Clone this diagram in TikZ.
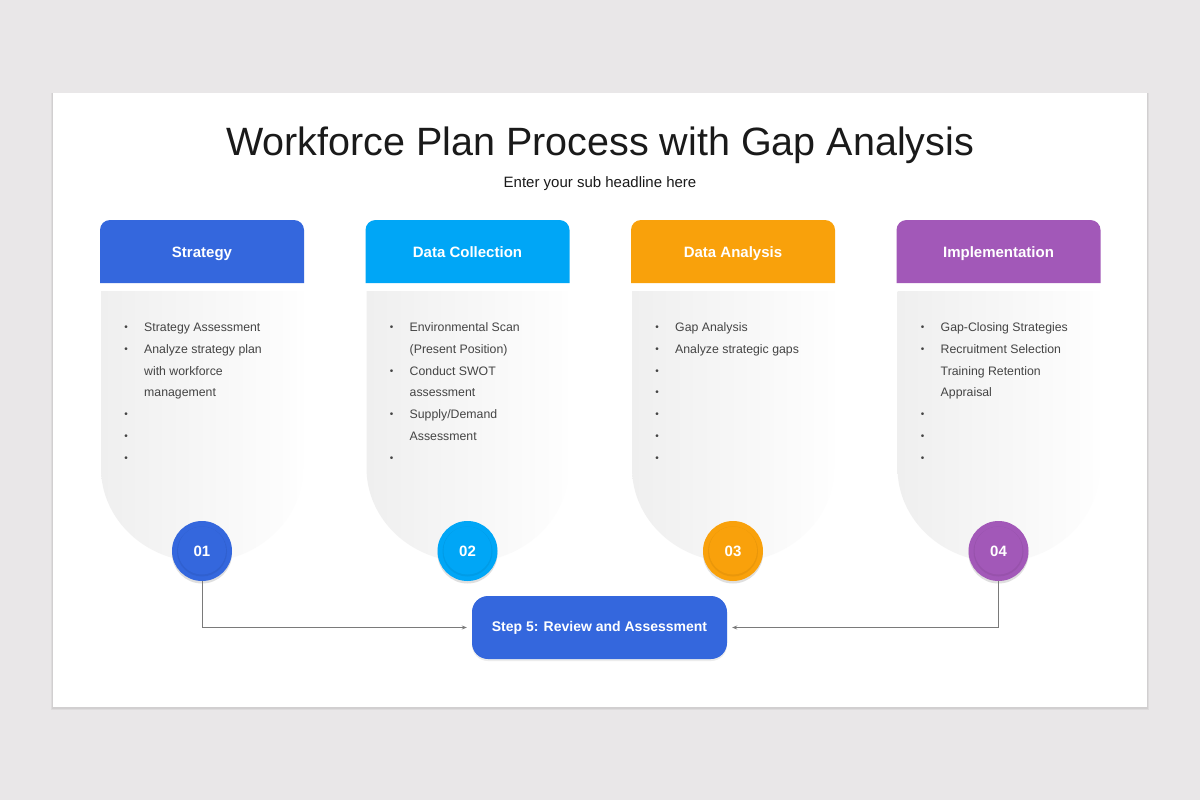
\documentclass[tikz,border=0pt]{standalone}
\usepackage{fontspec}
\setmainfont{Liberation Sans}
\usetikzlibrary{arrows.meta,shadows}
\definecolor{bgc}{HTML}{E9E7E8}
\definecolor{cblue}{HTML}{3467DD}
\definecolor{ccyan}{HTML}{00A6F6}
\definecolor{corange}{HTML}{F9A10B}
\definecolor{cpurple}{HTML}{A258B8}
\definecolor{panelL}{HTML}{EFEFEF}
\definecolor{panelR}{HTML}{FEFEFE}
\definecolor{bodytxt}{HTML}{444444}
\definecolor{titletxt}{HTML}{1A1A1A}
\definecolor{connc}{HTML}{7A7A7A}
\tikzset{
  headtxt/.style={text=white,font=\fontsize{15}{18}\selectfont\bfseries,inner sep=0pt,anchor=base},
  bodyline/.style={text=bodytxt,font=\fontsize{12.3}{14}\selectfont,anchor=base west,inner sep=0pt},
  bulletmark/.style={text=bodytxt,font=\fontsize{10}{12}\selectfont,anchor=base,inner sep=0pt},
  numcircle/.style={circle,minimum size=60pt,inner sep=0pt,text=white,
     font=\fontsize{15}{18}\selectfont\bfseries,
     drop shadow={opacity=0.25,shadow xshift=0pt,shadow yshift=-2.5pt}},
  conn/.style={draw=connc,line width=0.9pt,-{Stealth[length=5pt,width=4pt]},shorten >=5pt},
}
\newcommand{\colcard}[4]{% #1 left x, #2 color, #3 title, #4 index
  \fill[#2] (#1,283) {[rounded corners=10pt] -- (#1,220) -- (#1+204,220)} -- (#1+204,283) -- cycle;
  \node[headtxt] (h#4) at (#1+102,257) {#3};
  \shade[left color=panelL,right color=panelR] (#1+1,291) -- (#1+203,291) -- (#1+203,468)
     arc[start angle=0,end angle=180,x radius=101,y radius=94] -- cycle;
}
\newcommand{\bline}[4]{% #1 left x, #2 line index, #3 bullet?, #4 text
  \ifnum#3=1 \node[bulletmark] at (#1+26,330.5+21.8*#2) {\textbullet};\fi
  \node[bodyline] at (#1+44,331.5+21.8*#2) {#4};
}
\begin{document}
\begin{tikzpicture}[x=1pt,y=-1pt]
\useasboundingbox (0,0) rectangle (1200,800);
\fill[bgc] (0,0) rectangle (1200,800);
\fill[black,opacity=0.05] (51,93) rectangle (1149,710);
\fill[black,opacity=0.05] (52,93) rectangle (1148,708.5);
\fill[white] (53,93) rectangle (1147,707);

\node[text=titletxt,font=\fontsize{39.5}{44}\selectfont,inner sep=0pt,anchor=base] (title) at (600,155) {Workforce Plan Process with Gap Analysis};
\node[text=titletxt,font=\fontsize{15}{17}\selectfont,inner sep=0pt,anchor=base] (sub) at (600,187) {Enter your sub headline here};

\colcard{100}{cblue}{Strategy}{1}
\colcard{365.5}{ccyan}{Data Collection}{2}
\colcard{631}{corange}{Data Analysis}{3}
\colcard{896.5}{cpurple}{Implementation}{4}

% column 1
\bline{100}{0}{1}{Strategy Assessment}
\bline{100}{1}{1}{Analyze strategy plan}
\bline{100}{2}{0}{with workforce}
\bline{100}{3}{0}{management}
\bline{100}{4}{1}{}
\bline{100}{5}{1}{}
\bline{100}{6}{1}{}
% column 2
\bline{365.5}{0}{1}{Environmental Scan}
\bline{365.5}{1}{0}{(Present Position)}
\bline{365.5}{2}{1}{Conduct SWOT}
\bline{365.5}{3}{0}{assessment}
\bline{365.5}{4}{1}{Supply/Demand}
\bline{365.5}{5}{0}{Assessment}
\bline{365.5}{6}{1}{}
% column 3
\bline{631}{0}{1}{Gap Analysis}
\bline{631}{1}{1}{Analyze strategic gaps}
\bline{631}{2}{1}{}
\bline{631}{3}{1}{}
\bline{631}{4}{1}{}
\bline{631}{5}{1}{}
\bline{631}{6}{1}{}
% column 4
\bline{896.5}{0}{1}{Gap-Closing Strategies}
\bline{896.5}{1}{1}{Recruitment Selection}
\bline{896.5}{2}{0}{Training Retention}
\bline{896.5}{3}{0}{Appraisal}
\bline{896.5}{4}{1}{}
\bline{896.5}{5}{1}{}
\bline{896.5}{6}{1}{}

% number circles
\foreach \cx/\cc/\num [count=\i] in {202/cblue/01,467.5/ccyan/02,733/corange/03,998.5/cpurple/04}{
  \node[numcircle,fill=\cc] (c\i) at (\cx,551) {};
  \fill[\cc!85!black,opacity=0.4] (\cx,551.5) circle[radius=25pt];
  \fill[\cc] (\cx,550.5) circle[radius=24pt];
  \node[text=white,font=\fontsize{15}{18}\selectfont\bfseries,inner sep=0pt,anchor=base] at (\cx,556) {\num};
}

% bottom box
\node[fill=cblue,rounded corners=16pt,minimum width=255pt,minimum height=63pt,inner sep=0pt,
      text=white,font=\fontsize{14}{17}\selectfont\bfseries,
      drop shadow={opacity=0.15,shadow xshift=0pt,shadow yshift=-2pt}] (s5) at (599.5,627.5) {Step 5: Review and Assessment};

\draw[conn] (c1.south) |- (s5.west);
\draw[conn] (c4.south) |- (s5.east);
\end{tikzpicture}
\end{document}
